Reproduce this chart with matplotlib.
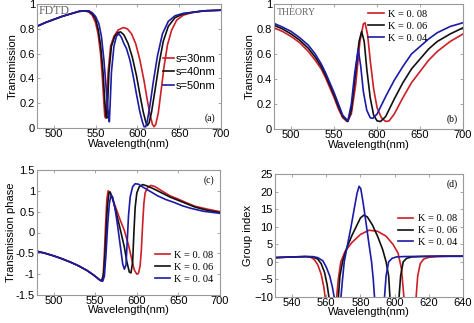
import numpy as np
import matplotlib.pyplot as plt

nan = np.nan

# (a) FDTD transmission for three gap sizes
wl_a_red = [480, 490, 500, 510, 520, 530, 537, 542, 546, 550, 553, 556, 558, 560, 561, 562, 563, 565, 568, 572,
            577, 583, 588, 593, 598, 603, 608, 612, 615, 618, 620, 622, 625, 628, 632, 636, 641, 647, 655, 665, 680, 700]
t_a_red = [0.82, 0.85, 0.875, 0.90, 0.92, 0.94, 0.945, 0.935, 0.91, 0.85, 0.76, 0.6, 0.42, 0.2, 0.1, 0.08, 0.15, 0.45,
           0.66, 0.74, 0.79, 0.81, 0.80, 0.76, 0.68, 0.55, 0.38, 0.22, 0.11, 0.03, 0.01, 0.03, 0.12, 0.28, 0.5, 0.67,
           0.79, 0.87, 0.91, 0.93, 0.945, 0.95]
wl_a_blk = [480, 490, 500, 510, 520, 530, 537, 542, 546, 550, 553, 556, 559, 561, 562.5, 563.5, 564.5, 566, 569, 573,
            577, 580, 584, 589, 594, 599, 603, 607, 610, 612, 614, 617, 621, 626, 631, 637, 645, 655, 668, 680, 700]
t_a_blk = [0.82, 0.85, 0.875, 0.90, 0.92, 0.94, 0.945, 0.94, 0.92, 0.88, 0.8, 0.67, 0.45, 0.22, 0.1, 0.08, 0.2, 0.45,
           0.66, 0.74, 0.77, 0.775, 0.75, 0.68, 0.57, 0.42, 0.27, 0.13, 0.05, 0.02, 0.04, 0.13, 0.3, 0.52, 0.7, 0.82,
           0.89, 0.92, 0.935, 0.945, 0.95]
wl_a_blu = [480, 490, 500, 510, 520, 530, 537, 542, 546, 550, 554, 557, 560, 562, 564, 565.5, 566.5, 567.5, 569, 572,
            575, 578, 581, 584, 587, 591, 595, 599, 603, 606, 608, 610, 612, 615, 619, 624, 630, 637, 645, 655, 668,
            680, 700]
t_a_blu = [0.82, 0.85, 0.875, 0.90, 0.92, 0.94, 0.945, 0.945, 0.93, 0.9, 0.84, 0.74, 0.55, 0.38, 0.2, 0.1, 0.05, 0.2,
           0.45, 0.66, 0.74, 0.76, 0.73, 0.68, 0.64, 0.55, 0.42, 0.27, 0.13, 0.05, 0.01, 0.01, 0.06, 0.18, 0.37, 0.58,
           0.76, 0.86, 0.905, 0.925, 0.935, 0.945, 0.95]

# (b) coupled-mode theory transmission for three coupling coefficients
wl_b_red = [480, 490, 500, 510, 520, 528, 535, 540, 545, 550, 555, 560, 565, 570, 575, 580, 584, 586, 589, 592, 596,
            600, 605, 610, 614, 620, 630, 640, 650, 660, 670, 685, 700]
t_b_red = [0.81, 0.78, 0.74, 0.69, 0.62, 0.55, 0.48, 0.41, 0.33, 0.25, 0.16, 0.09, 0.06, 0.12, 0.35, 0.7, 0.84, 0.85,
           0.75, 0.55, 0.32, 0.17, 0.09, 0.06, 0.065, 0.12, 0.25, 0.37, 0.46, 0.55, 0.62, 0.7, 0.76]
wl_b_blk = [480, 490, 500, 510, 520, 528, 535, 540, 545, 550, 555, 560, 566, 570, 575, 579, 582, 585, 588, 592, 596,
            600, 604, 610, 620, 630, 640, 650, 660, 670, 685, 700]
t_b_blk = [0.83, 0.8, 0.76, 0.71, 0.645, 0.575, 0.5, 0.43, 0.35, 0.27, 0.18, 0.1, 0.06, 0.15, 0.45, 0.7, 0.78, 0.7,
           0.48, 0.25, 0.11, 0.065, 0.06, 0.1, 0.24, 0.37, 0.48, 0.56, 0.64, 0.7, 0.76, 0.81]
wl_b_blu = [480, 490, 500, 510, 520, 528, 535, 540, 545, 550, 555, 560, 566, 570, 574, 578, 581, 584, 588, 592, 595,
            600, 610, 620, 630, 640, 650, 660, 670, 685, 700]
t_b_blu = [0.845, 0.815, 0.78, 0.73, 0.67, 0.6, 0.52, 0.45, 0.37, 0.29, 0.2, 0.11, 0.065, 0.2, 0.45, 0.64, 0.5, 0.3,
           0.15, 0.09, 0.085, 0.12, 0.26, 0.39, 0.5, 0.6, 0.66, 0.72, 0.77, 0.82, 0.85]

# (c) transmission phase
wl_c_red = [480, 490, 500, 510, 520, 530, 540, 548, 553, 556, 558, 559.5, 561, 562.5, 564, 565.5, 567, 570, 575, 580,
            585, 590, 594, 597, 600, 602, 604, 605.5, 607, 608.5, 610, 613, 617, 622, 630, 640, 650, 660, 670, 685, 700]
ph_c_red = [-0.45, -0.5, -0.56, -0.63, -0.71, -0.8, -0.91, -1.02, -1.1, -1.15, -1.15, -1.05, -0.5, 0.2, 0.8, 1.0, 0.98,
            0.85, 0.58, 0.3, 0.05, -0.3, -0.65, -0.9, -1.0, -0.98, -0.8, -0.4, 0.2, 0.7, 0.95, 1.08, 1.13, 1.1, 1.0,
            0.88, 0.8, 0.71, 0.63, 0.56, 0.5]
wl_c_blk = [480, 490, 500, 510, 520, 530, 540, 548, 553, 556, 558, 560, 561.5, 563, 564.5, 566.5, 568, 571, 575, 578,
            581, 585, 588, 591, 593, 595, 596.5, 598, 600, 603, 607, 612, 620, 630, 640, 650, 660, 670, 685, 700]
ph_c_blk = [-0.45, -0.5, -0.56, -0.63, -0.71, -0.8, -0.91, -1.02, -1.1, -1.15, -1.15, -1.0, -0.6, 0.0, 0.6, 0.95, 0.97,
            0.8, 0.5, 0.25, 0.0, -0.35, -0.7, -0.95, -0.97, -0.7, 0.0, 0.6, 0.95, 1.1, 1.15, 1.12, 1.05, 0.95, 0.85,
            0.77, 0.69, 0.61, 0.53, 0.48]
wl_c_blu = [480, 490, 500, 510, 520, 530, 540, 548, 553, 557, 559, 561, 563, 565, 567, 569, 571, 574, 577, 580, 583,
            585, 587, 588.5, 590, 592, 595, 598, 602, 608, 615, 625, 635, 645, 655, 665, 680, 700]
ph_c_blu = [-0.45, -0.5, -0.56, -0.63, -0.71, -0.8, -0.91, -1.02, -1.1, -1.16, -1.17, -1.05, -0.5, 0.2, 0.7, 0.9, 0.85,
            0.55, 0.15, -0.3, -0.75, -0.88, -0.78, -0.2, 0.4, 0.85, 1.1, 1.17, 1.16, 1.08, 1.0, 0.88, 0.79, 0.72,
            0.64, 0.58, 0.51, 0.46]

# (d) group index; nan separates the branches around each pole
wl_d_red = [530, 540, 548, 551, 553, 555, 557, 558.5, 559.5, nan, 566, 567, 568.5, 571, 575, 580, 585, 590, 595, 599,
            602, 604, 605.5, nan, 612.5, 613.5, 615, 617, 620, 625, 632, 640]
gi_d_red = [1.2, 1.4, 1.5, 1.3, 0.6, -0.8, -3.5, -7, -10.5, nan, -10.5, -5, 0, 3, 5.5, 7.8, 9.0, 8.7, 7.3, 5, 2.5, -2,
            -10.5, nan, -10.5, -4, -0.5, 0.8, 1.3, 1.5, 1.6, 1.6]
wl_d_blk = [530, 540, 548, 552, 555, 557, 559, 560.5, 561.7, nan, 567, 568, 569.5, 572, 575, 578, 580, 582, 584, 587,
            590, 593, 595, 596.5, 597.3, nan, 602.5, 603.5, 605, 607, 610, 615, 625, 640]
gi_d_blk = [1.2, 1.4, 1.5, 1.4, 0.8, -0.5, -3, -6.5, -10.5, nan, -10.5, -4, 0, 4, 7.5, 10.5, 12.5, 13.3, 12.8, 10.5,
            7.3, 3.5, 0, -4, -10.5, nan, -10.5, -4, 0, 1, 1.4, 1.5, 1.6, 1.6]
wl_d_blu = [530, 540, 548, 552, 555, 558, 560, 562, 563.5, 564.8, nan, 568.5, 569.5, 570.5, 572.5, 574.5, 576.5, 578,
            579.2, 580.2, 581.5, 583, 585, 586.5, 587.5, 588.3, nan, 594, 595, 596.5, 598.5, 601, 605, 620, 640]
gi_d_blu = [1.2, 1.4, 1.5, 1.5, 1.2, 0.3, -1.5, -4, -7, -10.5, nan, -10.5, -5, 0, 5, 10, 15.5, 19.5, 21.5, 20.8, 17,
            12, 5, 0, -5, -10.5, nan, -10.5, -4, 0, 1, 1.4, 1.5, 1.6, 1.6]

s_labels = ['s=30nm', 's=40nm', 's=50nm']
k_labels = ['K = 0. 08', 'K = 0. 06', 'K = 0. 04']
colors = ['#cc1f26', '#111111', '#1b1ba6']

plt.rcParams['font.family'] = 'Liberation Sans'
plt.rcParams['font.size'] = 8

W, H = 474, 323
fig = plt.figure(figsize=(W / 100, H / 100), dpi=100)


def make_ax(l, r, t, b):
    ax = fig.add_axes([l / W, 1 - b / H, (r - l) / W, (b - t) / H])
    for sp in ax.spines.values():
        sp.set_color('#999999')
        sp.set_linewidth(0.8)
    ax.tick_params(direction='in', length=2.5, width=0.6, color='#999999', top=True, right=True,
                   labelsize=8, pad=1.5)
    ax.tick_params(axis='x', pad=1)
    return ax


serif = dict(family='Liberation Serif')
leg_prop = dict(family='Liberation Serif', size=7.5)

# (a)
ax = make_ax(37, 221, 4, 128)
for wl, t, c, lab in zip([wl_a_red, wl_a_blk, wl_a_blu], [t_a_red, t_a_blk, t_a_blu], colors, s_labels):
    ax.plot(wl, t, color=c, lw=1.2, label=lab)
ax.set_xlim(480, 700)
ax.set_ylim(0, 1)
ax.set_xticks([500, 550, 600, 650, 700])
ax.set_yticks([0, 0.2, 0.4, 0.6, 0.8, 1])
ax.set_yticklabels(['0', '0.2', '0.4', '0.6', '0.8', '1'])
ax.set_xlabel('Wavelength(nm)', labelpad=0)
ax.set_ylabel('Transmission', labelpad=1)
ax.legend(loc='center right', bbox_to_anchor=(1.0, 0.45), frameon=False, handlelength=1.0,
          handletextpad=0.15, labelspacing=0.3, fontsize=8, borderaxespad=0.1)
ax.text(0.01, 0.99, 'FDTD', transform=ax.transAxes, ha='left', va='top', color='#666666', fontsize=8.5, **serif)
ax.text(0.97, 0.04, '(a)', transform=ax.transAxes, ha='right', va='bottom', fontsize=7, **serif)

# (b)
ax = make_ax(274, 463, 4, 129)
for wl, t, c, lab in zip([wl_b_red, wl_b_blk, wl_b_blu], [t_b_red, t_b_blk, t_b_blu], colors, k_labels):
    ax.plot(wl, t, color=c, lw=1.2, label=lab)
ax.set_xlim(480, 700)
ax.set_ylim(0, 1)
ax.set_xticks([500, 550, 600, 650, 700])
ax.set_yticks([0, 0.2, 0.4, 0.6, 0.8, 1])
ax.set_yticklabels(['0', '0.2', '0.4', '0.6', '0.8', '1'])
ax.set_xlabel('Wavelength(nm)', labelpad=0)
ax.set_ylabel('Transmission', labelpad=1)
ax.legend(loc='upper right', bbox_to_anchor=(0.86, 1.03), frameon=False, handlelength=1.5,
          handletextpad=0.4, labelspacing=0.25, prop=leg_prop)
ax.text(0.015, 0.965, 'THEORY', transform=ax.transAxes, ha='left', va='top', color='#666666', fontsize=7, **serif)
ax.text(0.97, 0.04, '(b)', transform=ax.transAxes, ha='right', va='bottom', fontsize=7, **serif)

# (c)
ax = make_ax(37, 220, 170, 295)
for wl, p, c, lab in zip([wl_c_red, wl_c_blk, wl_c_blu], [ph_c_red, ph_c_blk, ph_c_blu], colors, k_labels):
    ax.plot(wl, p, color=c, lw=1.2, label=lab)
ax.set_xlim(480, 700)
ax.set_ylim(-1.5, 1.5)
ax.set_xticks([500, 550, 600, 650, 700])
ax.set_yticks([-1.5, -1, -0.5, 0, 0.5, 1, 1.5])
ax.set_yticklabels(['-1.5', '-1', '-0.5', '0', '0.5', '1', '1.5'])
ax.set_xlabel('Wavelength(nm)', labelpad=-1)
ax.set_ylabel('Transmission phase', labelpad=0)
ax.legend(loc='lower right', bbox_to_anchor=(1.0, 0.04), frameon=False, handlelength=1.5, handletextpad=0.4,
          labelspacing=0.25, borderaxespad=0.2, prop=leg_prop)
ax.text(0.97, 0.96, '(c)', transform=ax.transAxes, ha='right', va='top', fontsize=7, **serif)

# (d)
ax = make_ax(275, 463, 174, 297)
for wl, g, c, lab in zip([wl_d_red, wl_d_blk, wl_d_blu], [gi_d_red, gi_d_blk, gi_d_blu], colors, k_labels):
    ax.plot(wl, g, color=c, lw=1.2, label=lab)
ax.set_xlim(530, 640)
ax.set_ylim(-10, 25)
ax.set_xticks([540, 560, 580, 600, 620, 640])
ax.set_yticks([-10, -5, 0, 5, 10, 15, 20, 25])
ax.set_xlabel('Wavelength(nm)', labelpad=-1)
ax.set_ylabel('Group index', labelpad=1)
ax.legend(loc='center right', bbox_to_anchor=(1.0, 0.54), frameon=False, handlelength=1.5,
          handletextpad=0.4, labelspacing=0.25, borderaxespad=0.2, prop=leg_prop)
ax.text(0.97, 0.96, '(d)', transform=ax.transAxes, ha='right', va='top', fontsize=7, **serif)

fig.savefig('out.png', dpi=100)
